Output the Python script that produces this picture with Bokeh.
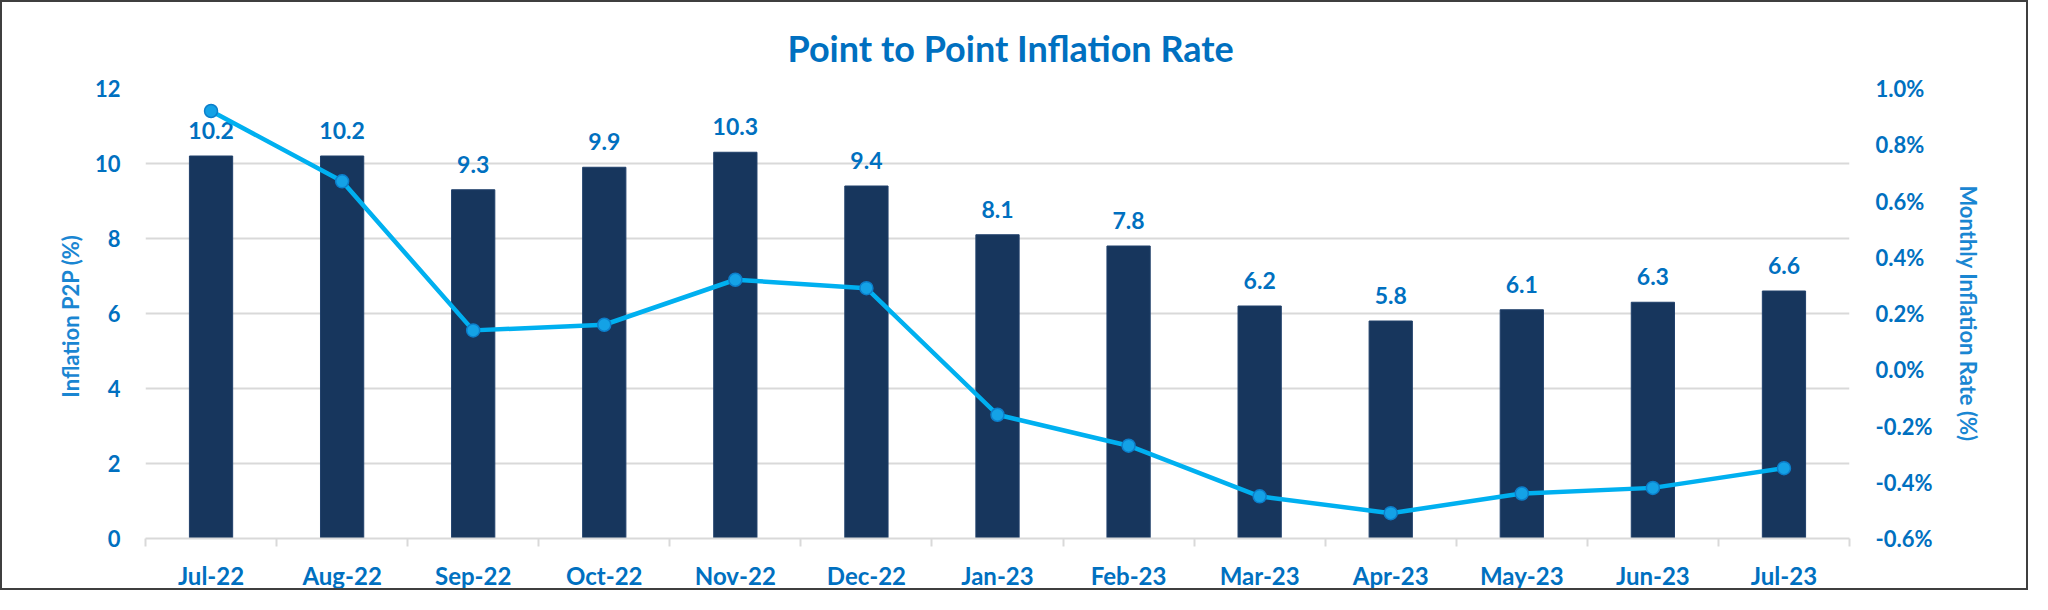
from bokeh.plotting import figure
from bokeh.models import Range1d, LinearAxis, FixedTicker, PrintfTickFormatter, ColumnDataSource
from bokeh.core.properties import value
from bokeh.embed import file_html
from bokeh.resources import INLINE

# ---- data ----
title_text = "Point to Point Inflation Rate"
months = ["Jul-22", "Aug-22", "Sep-22", "Oct-22", "Nov-22", "Dec-22", "Jan-23",
          "Feb-23", "Mar-23", "Apr-23", "May-23", "Jun-23", "Jul-23"]
p2p_inflation = [10.2, 10.2, 9.3, 9.9, 10.3, 9.4, 8.1, 7.8, 6.2, 5.8, 6.1, 6.3, 6.6]
monthly_inflation = [0.92, 0.67, 0.14, 0.16, 0.32, 0.29, -0.16, -0.27, -0.45, -0.51, -0.44, -0.42, -0.35]
left_ticks = [0, 2, 4, 6, 8, 10, 12]
right_ticks = [-0.6, -0.4, -0.2, 0.0, 0.2, 0.4, 0.6, 0.8, 1.0]

FONT = "Lato"
TXT = "#0070C0"
AXT = "#1A86D2"
BAR = "#17365D"
LINE = "#00B0F0"
GRID = "#D9D9D9"

xc = [i + 0.5 for i in range(len(months))]
src = ColumnDataSource(dict(
    x=xc, month=months, p2p=p2p_inflation, mon=monthly_inflation,
    lab=[f"{v:.1f}" for v in p2p_inflation],
))

p = figure(width=2028, height=590, output_backend="svg", toolbar_location=None,
           x_range=Range1d(0, len(months)), y_range=Range1d(0, 12),
           min_border_left=143, min_border_right=181, min_border_top=86,
           min_border_bottom=54, background_fill_color="white",
           border_fill_color="white", outline_line_color=None)
p.styles = {"border": "2px solid #3F3F3F"}

p.title.text = title_text
p.title.align = "left"
p.title.offset = 642
p.title.text_font = FONT
p.title.text_font_size = "36px"
p.title.text_font_style = "bold"
p.title.text_color = TXT
p.title.standoff = 38

p.extra_y_ranges = {"mon": Range1d(-0.6, 1.0)}

# bars
p.vbar(x="x", top="p2p", width=0.33, source=src, fill_color=BAR, line_color="#21406B", line_width=1)
# data labels
p.text(x="x", y="p2p", text="lab", source=src, text_align="center", text_baseline="bottom",
       y_offset=-17, text_font=value(FONT), text_font_size="23px", text_font_style="bold",
       text_color=TXT)
# line
p.line(x="x", y="mon", source=src, y_range_name="mon", line_color=LINE, line_width=4.5)
p.scatter(x="x", y="mon", source=src, y_range_name="mon", marker="circle", size=13,
          fill_color="#14A2E6", line_color="#0C7FCB", line_width=1.5)

# grid
p.xgrid.visible = False
p.ygrid.ticker = FixedTicker(ticks=left_ticks)
p.ygrid.grid_line_color = GRID
p.ygrid.grid_line_width = 2

# x axis
xa = p.xaxis[0]
xa.ticker = FixedTicker(ticks=xc, minor_ticks=list(range(len(months) + 1)))
xa.major_label_overrides = {x: m for x, m in zip(xc, months)}
xa.major_tick_line_color = None
xa.major_tick_out = 0
xa.major_tick_in = 0
xa.minor_tick_line_color = GRID
xa.minor_tick_line_width = 2
xa.minor_tick_out = 8
xa.minor_tick_in = 0
xa.axis_line_color = GRID
xa.axis_line_width = 2
xa.major_label_standoff = 14
xa.major_label_text_font = FONT
xa.major_label_text_font_size = "24px"
xa.major_label_text_font_style = "bold"
xa.major_label_text_color = TXT

# left axis
ya = p.yaxis[0]
ya.ticker = FixedTicker(ticks=left_ticks)
ya.axis_line_color = None
ya.major_tick_line_color = None
ya.minor_tick_line_color = None
ya.major_tick_out = 0
ya.major_label_standoff = 25
ya.major_label_text_font = FONT
ya.major_label_text_font_size = "22px"
ya.major_label_text_font_style = "bold"
ya.major_label_text_color = TXT
ya.axis_label = "Inflation P2P  (%)"
ya.axis_label_standoff = 8
ya.axis_label_text_font = FONT
ya.axis_label_text_font_size = "22px"
ya.axis_label_text_font_style = "bold"
ya.axis_label_text_color = AXT

# right axis
ra = LinearAxis(y_range_name="mon", ticker=FixedTicker(ticks=right_ticks),
                formatter=PrintfTickFormatter(format="%.1f%%"))
ra.axis_line_color = None
ra.major_tick_line_color = None
ra.minor_tick_line_color = None
ra.major_tick_out = 0
ra.major_label_standoff = 26
ra.major_label_text_font = FONT
ra.major_label_text_font_size = "22px"
ra.major_label_text_font_style = "bold"
ra.major_label_text_color = TXT
ra.axis_label = "Monthly Inflation Rate (%)"
ra.axis_label_standoff = 20
ra.axis_label_text_font = FONT
ra.axis_label_text_font_size = "22px"
ra.axis_label_text_font_style = "bold"
ra.axis_label_text_color = AXT
p.add_layout(ra, "right")

open("out.html", "w").write(file_html(p, INLINE))
